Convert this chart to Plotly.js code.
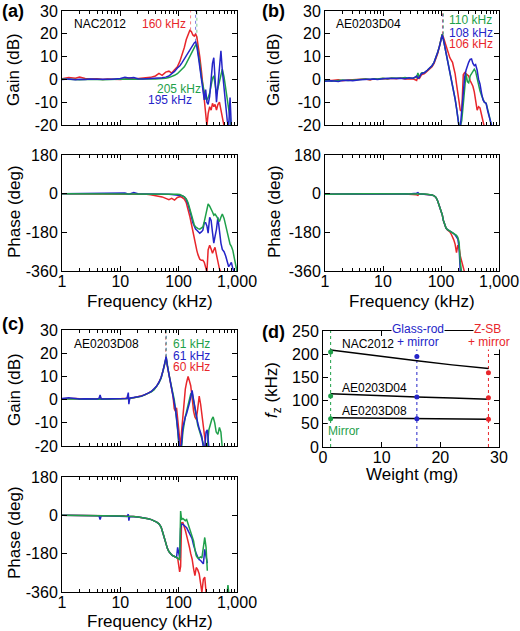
<!DOCTYPE html>
<html>
<head>
<meta charset="utf-8">
<script src="https://cdn.plot.ly/plotly-3.0.1.min.js"></script>
<style>
  html, body { margin: 0; padding: 0; background: #fff; }
  #chart { width: 520px; height: 631px; }
</style>
</head>
<body>
<div id="chart"></div>
<script>
// ---------------- data ----------------
// (a) NAC2012 frequency response (kHz, dB, deg)
const freqA = [
  1, 1.3, 1.7, 2, 2.5, 3, 4, 5, 6, 7,
  8, 10, 12, 14, 17, 20, 24, 28, 33, 40,
  46, 52, 60, 68, 76, 85, 95, 105, 115, 125,
  135, 145, 155, 165, 175, 185, 195, 205, 215, 230,
  245, 260, 275, 290, 305, 320, 340, 360, 380, 400,
  420, 445, 470, 500, 530, 560, 600, 640, 680, 720,
  760, 800, 850, 900, 950, 1000
];
const gainA_ZSB = [
  0.3, 0.8, 0.5, 1.0, 0.4, 0.2, 0.3, 0.0, 0.2, 0.1,
  -0.1, 0.0, 0.2, 0.6, 0.2, 0.4, 0.5, 0.8, 0.9, 1.5,
  2.6, 1.8, 3.2, 3.6, 2.8, 4.2, 5.5, 8.0, 11.0, 14.0,
  17.5, 20.0, 21.5, 21.0, 19.5, 19.0, 20.0, 18.5, 15.5, 10.0,
  4.0, -2.5, -7.0, -11.5, -20.5, -15.0, -12.0, -13.5, -10.5, -12.0,
  -11.0, -13.5, -11.0, -10.0, -13.0, -17.0, -20.5, null, null, null,
  null, null, null, null, null, null
];
const gainA_Mirror = [
  0.2, 0.0, 0.1, -0.1, 0.0, 0.1, 0.0, -0.1, 0.0, 0.1,
  0.0, 0.1, 0.2, 0.1, 0.0, 0.1, 0.2, 0.1, 0.2, 0.2,
  0.2, 0.3, 0.5, 0.8, 1.2, 1.8, 2.5, 3.5, 4.5, 5.5,
  7.0, 8.5, 10.0, 11.5, 12.5, 13.5, 15.0, 15.2, 12.5, 7.0,
  1.0, -3.0, -6.0, -8.5, -9.0, -8.0, -6.0, -3.0, 0.5, 1.5,
  -2.0, -6.0, -4.0, -1.0, 2.0, 4.5, 1.0, -4.0, -8.0, -12.0,
  -16.0, -21.0, null, null, null, null
];
const gainA_Glass = [
  0.0, 0.2, -0.1, 0.1, 0.0, 0.2, 0.1, 0.0, 0.2, 0.1,
  0.2, 0.4, 0.9, 0.6, 0.8, 0.3, 0.2, 0.3, 0.2, 0.4,
  0.5, 0.7, 1.0, 1.5, 2.5, 3.5, 5.0, 6.0, 7.5, 9.0,
  10.5, 12.0, 13.0, 14.0, 15.0, 16.0, 16.5, 14.5, 11.0, 5.5,
  -2.0, -5.0, -9.0, -4.5, -10.0, -11.0, -7.5, 0.0, 7.0, 9.5,
  1.0, -10.0, -3.0, 6.0, 12.5, 4.0, -5.0, -13.0, -18.0, -21.0,
  -8.0, -21.0, null, null, null, null
];
const phaseA_ZSB = [
  0, 0, 0, 0, 0, 0, 0, 0, 0, 0,
  0, 0, -1, -2, 0, -2, -1, -3, -5, -8,
  -12, -15, -22, -28, -22, -30, -18, -14, -18, -25,
  -42, -70, -105, -140, -178, -210, -240, -265, -285, -305,
  -310, -310, -320, -345, -365, -262, -240, -258, -277, -262,
  -250, -285, -325, -350, -365, null, null, null, null, null,
  null, null, null, null, null, null
];
const phaseA_Mirror = [
  0, 0, 0, 0, 0, 0, 0, 0, 0, 0,
  0, 0, 0, 0, 0, 0, 0, 0, 0, 0,
  0, -1, -1, -2, -2, -3, -3, -4, -8, -15,
  -25, -42, -70, -100, -128, -145, -155, -160, -163, -165,
  -160, -155, -130, -95, -60, -48, -58, -70, -85, -100,
  -95, -105, -115, -130, -110, -95, -115, -150, -190, -220,
  -235, -245, -265, -300, -340, -362
];
const phaseA_Glass = [
  0, 0, 0, 0, 0, 0, 0, 0, 0, 0,
  0, 0, 3, -2, 5, 0, 0, -1, 0, -1,
  -1, -2, -2, -3, -4, -5, -5, -6, -10, -15,
  -28, -50, -75, -105, -135, -155, -165, -170, -178, -184,
  -178, -170, -135, -135, -150, -184, -110, -125, -180, -230,
  -200, -165, -110, -190, -230, -260, -270, -290, -315, -340,
  -330, -320, -350, -365, null, null
];

// (b) AE0203D04 frequency response
const freqB = [
  1, 1.3, 1.7, 2, 2.5, 3, 4, 5, 6, 7,
  8, 10, 12, 14, 17, 20, 24, 28, 33, 38,
  40, 42, 46, 52, 58, 64, 70, 76, 82, 88,
  94, 100, 105, 110, 116, 122, 128, 135, 142, 150,
  158, 166, 175, 185, 195, 205, 215, 228, 242, 256,
  270, 285, 300, 318, 336, 355, 375, 395, 420, 445,
  470, 500, 530, 560, 600, 640, 680, 720, 760
];
const gainB_ZSB = [
  -0.3, -0.5, -0.2, -0.6, -0.3, -0.1, 0.0, 0.2, -0.2, 0.3,
  0.1, 0.4, 0.2, 0.5, 0.3, 0.6, 0.2, 0.4, 0.3, -0.5,
  1.5, 0.2, 2.0, 2.5, 3.5, 4.5, 5.5, 7.0, 9.0, 11.5,
  14.5, 18.0, 19.8, 18.5, 16.5, 15.0, 13.5, 11.0, 9.5, 8.5,
  7.5, 5.0, 2.5, -2.0, -5.5, -10.0, -13.5, -14.0, 2.0, 3.0,
  2.5, 2.0, 1.5, -0.5, -1.5, -3.0, -5.5, -9.0, -13.5, -12.0,
  -12.5, -15.5, -18.5, -21.0, null, null, null, null, null
];
const gainB_Mirror = [
  -0.5, -0.8, -0.5, -0.3, -0.5, -0.2, 0.0, 0.2, 0.0, 0.3,
  0.2, 0.5, 0.3, 0.6, 0.4, 0.5, 0.8, 0.5, 0.6, 1.0,
  2.8, 1.0, 2.8, 3.0, 4.0, 5.0, 6.0, 7.5, 9.5, 12.0,
  14.5, 17.5, 19.8, 17.5, 14.5, 11.5, 9.0, 6.5, 4.0, 1.5,
  -1.5, -4.5, -8.5, -12.5, -16.5, -20.5, -21.0, -18.0, -11.0, -4.0,
  2.5, -1.0, -1.5, 1.5, 2.5, 4.0, 4.5, 3.5, 0.0, -2.5,
  -5.0, -7.0, -9.0, -10.0, -10.5, -13.0, -16.0, -19.0, -21.0
];
const gainB_Glass = [
  -0.8, -0.6, -0.9, -0.5, -0.4, -0.6, -0.2, 0.0, 0.1, 0.2,
  0.0, 0.3, 0.5, 0.4, 0.6, 0.5, 0.3, 0.7, 0.5, 1.5,
  0.5, 0.8, 2.5, 3.0, 4.0, 5.0, 6.0, 7.5, 9.5, 12.0,
  14.5, 17.5, 19.5, 17.5, 14.5, 11.5, 9.0, 6.5, 4.0, 1.5,
  -1.5, -4.5, -8.5, -12.5, -16.5, -21.0, -21.0, -13.0, -5.0, 1.0,
  4.0, 6.0, 7.5, 8.8, 9.0, 7.0, 6.0, 6.5, 4.0, 0.0,
  -2.0, -6.0, -9.0, -10.0, -10.5, -14.0, -17.0, -19.0, -21.0
];
const phaseB_ZSB = [
  -2, -3, -2, -1, -2, -1, 0, -1, 0, 0,
  -1, 0, -1, 0, -1, 0, -1, 0, -1, -5,
  -8, -2, -1, -2, -3, -4, -6, -10, -18, -35,
  -55, -78, -98, -125, -148, -160, -168, -172, -178, -188,
  -200, -215, -235, -275, -240, -250, -290, -320, -345, -368,
  null, null, null, null, null, null, null, null, null, null,
  null, null, null, null, null, null, null, null, null
];
const phaseB_Mirror = [
  -3, -2, -2, -1, -1, -1, 0, 0, 0, 0,
  0, 0, 0, 0, 1, 0, 0, 0, 0, 0,
  0, -1, -1, -2, -3, -4, -6, -10, -18, -35,
  -55, -78, -98, -125, -148, -160, -166, -170, -172, -175,
  -178, -182, -187, -194, -203, -225, -320, -370, null, null,
  null, null, null, null, null, null, null, null, null, null,
  null, null, null, null, null, null, null, null, null
];
const phaseB_Glass = [
  -3, -2, -3, -1, -2, -1, 0, -1, 0, 0,
  0, 0, -1, 0, 0, -1, 0, -1, 0, 2,
  5, -1, -1, -2, -3, -4, -6, -10, -18, -35,
  -55, -78, -98, -125, -148, -160, -166, -170, -172, -175,
  -180, -186, -192, -200, -212, -250, -365, null, null, null,
  null, null, null, null, null, null, null, null, null, null,
  null, null, null, null, null, null, null, null, null
];

// (c) AE0203D08 frequency response
const freqC = [
  1, 1.3, 1.7, 2, 2.5, 3, 3.5, 4, 4.3, 4.5,
  4.7, 5, 6, 7, 8, 9, 10, 11, 12, 13,
  13.7, 14, 14.5, 15, 17, 20, 23, 26, 30, 34,
  38, 42, 46, 50, 54, 58, 61, 64, 68, 72,
  76, 80, 84, 88, 92, 96, 100, 104, 108, 112,
  118, 124, 130, 137, 145, 153, 161, 170, 180, 190,
  200, 212, 225, 238, 250, 265, 280, 295, 310, 330,
  350, 370, 390, 415, 440, 470, 500, 530, 560, 600,
  650, 680, 700, 720
];
const gainC_ZSB = [
  0.4, 0.6, 0.5, 0.4, 0.3, 0.4, 0.3, 0.4, 0.4, 1.0,
  0.4, 0.3, 0.3, 0.4, 0.3, 0.4, 0.4, 0.5, 0.4, 0.5,
  1.5, -0.5, 0.5, 0.7, 0.8, 1.2, 1.5, 2.0, 2.8, 3.5,
  4.5, 5.8, 7.5, 9.5, 12.5, 16.0, 18.0, 14.5, 11.0, 8.0,
  5.0, 1.5, -4.0, -5.0, -3.5, -8.0, -14.0, -19.0, -21.0, -14.0,
  -6.0, 1.0, 4.5, 7.5, 10.0, 8.0, 6.0, 1.0, -5.0, -7.5,
  -8.5, -4.0, 1.5, -2.0, -6.0, -10.0, -15.0, -21.0, null, null,
  null, null, null, null, null, null, null, null, null, null,
  null, null, null, null
];
const gainC_Mirror = [
  0.3, 0.5, 0.4, 0.2, 0.3, 0.2, 0.3, 0.2, 0.3, 0.3,
  0.2, 0.3, 0.2, 0.2, 0.3, 0.2, 0.4, 0.3, 0.4, 0.5,
  0.5, 0.5, 0.5, 0.6, 0.7, 1.1, 1.4, 1.9, 2.6, 3.3,
  4.3, 5.6, 7.2, 9.2, 12.0, 15.5, 18.3, 14.5, 11.0, 8.0,
  5.6, 3.0, 0.0, -4.0, -8.0, -13.0, -19.0, -21.0, -21.0, -21.0,
  -14.0, -10.0, -7.5, -5.0, -2.0, 0.5, 2.5, 3.0, 0.0, -4.0,
  -7.0, -11.0, -13.0, -15.0, -17.0, -19.0, -21.0, -21.0, -20.0, -13.0,
  -10.0, -8.5, -7.5, -10.0, -14.0, -15.0, -12.0, -14.0, -21.0, null,
  null, null, null, null
];
const gainC_Glass = [
  0.5, 0.8, 0.5, 0.3, 0.4, 0.3, 0.4, 0.3, 0.5, 2.0,
  0.3, 0.3, 0.2, 0.3, 0.4, 0.3, 0.5, 0.4, 0.5, 0.6,
  3.0, -2.0, 0.6, 0.7, 0.8, 1.2, 1.5, 2.0, 2.8, 3.5,
  4.5, 5.8, 7.5, 9.5, 12.5, 16.0, 18.5, 14.5, 11.0, 8.0,
  5.6, 3.0, 0.0, -4.0, -8.0, -13.0, -19.0, -21.0, -21.0, -19.0,
  -12.0, -9.0, -7.5, -6.0, -4.0, -1.5, 1.0, 4.0, 0.0, -4.0,
  -7.0, -10.0, -12.5, -14.0, -16.0, -21.0, -21.0, -14.0, -13.0, -21.0,
  null, null, null, null, null, null, null, null, null, null,
  null, null, null, null
];
const phaseC_ZSB = [
  0, 0, 0, 0, 0, 0, 0, 0, 0, -1,
  0, -1, -1, -2, -2, -2, -3, -3, -3, -4,
  -4, -6, -4, -5, -6, -8, -10, -12, -16, -20,
  -25, -32, -40, -55, -85, -120, -138, -155, -170, -180,
  -186, -190, -194, -196, -198, -200, -230, -265, -240, -35,
  -34, -50, -70, -95, -120, -150, -180, -205, -250, -283,
  -245, -255, -275, -320, -362, -300, -290, -362, null, null,
  null, null, null, null, null, null, null, null, null, null,
  null, null, null, null
];
const phaseC_Mirror = [
  0, 0, 0, 0, 0, 0, 0, 0, -1, -1,
  -1, -1, -2, -2, -2, -3, -3, -3, -4, -4,
  -4, -4, -5, -5, -6, -8, -10, -12, -16, -20,
  -25, -32, -40, -55, -85, -120, -138, -155, -170, -180,
  -186, -190, -194, -196, -198, -200, -205, -210, 20, -20,
  -15, -20, -25, -20, -40, -55, -70, -90, -120, -160,
  -190, -200, -200, -195, -200, -150, -104, -150, -260, null,
  null, null, null, null, null, null, null, null, null, null,
  null, -362, -328, -362
];
const phaseC_Glass = [
  0, 0, -1, 0, -1, 0, -1, -1, -2, -20,
  -2, -2, -2, -3, -3, -3, -4, -4, -4, -5,
  5, -25, -5, -5, -6, -8, -10, -12, -16, -20,
  -25, -32, -40, -55, -85, -120, -138, -155, -170, -180,
  -186, -190, -194, -196, -198, -150, -190, -200, -60, -42,
  -42, -48, -52, -58, -72, -85, -98, -110, -140, -165,
  -180, -195, -208, -212, -220, -228, -160, -200, -225, null,
  null, null, null, null, null, null, null, null, null, null,
  null, null, null, null
];

// (d) resonance frequency vs. added weight
const weights = [1.3, 16, 28.2];           // mg: mirror, glass-rod + mirror, Z-SB + mirror
const fzNAC2012 = [205, 195, 160];          // kHz
const fzAE0203D04 = [110, 108, 106];
const fzAE0203D08 = [61, 61, 60];
const trendWeight = [1.3, 5, 10, 16, 22, 28.2];
const trendNAC2012 = [209, 203, 195, 186, 177, 169];
const trendAE0203D04 = [115, 113, 111, 108, 105.5, 103];
const trendAE0203D08 = [63, 62.5, 62, 61.5, 61, 60];

// tick labels
const freqTicks = [1, 10, 100, 1000];
const freqTickText = ['1', '10', '100', '1,000'];
const freqMinorTicks = [2, 3, 4, 5, 6, 7, 8, 9, 20, 30, 40, 50, 60, 70, 80, 90,
                        200, 300, 400, 500, 600, 700, 800, 900];
const gainTicks = [-20, -10, 0, 10, 20, 30];
const phaseTicks = [-360, -180, 0, 180];
const weightTicks = [0, 10, 20, 30];
const fzTicks = [0, 50, 100, 150, 200, 250];

// ---------------- styling ----------------
const FONT = 'Liberation Sans, Arial, Helvetica, sans-serif';
const RED = '#e8262b', GREEN = '#1fa04a', BLUE = '#2424c8';
const W = 520, H = 631;
const px = x => x / W;
const py = y => 1 - y / H;

// plot boxes in pixels: [left, right, top, bottom]
const boxes = [
  [62, 237, 11, 125],   // a gain
  [62, 237, 155, 271],  // a phase
  [325, 499, 11, 125],  // b gain
  [325, 499, 155, 271], // b phase
  [62, 237, 330, 446],  // c gain
  [62, 237, 477, 592],  // c phase
  [323, 499, 331, 447]  // d
];

const frame = {
  showline: true, linecolor: '#000', linewidth: 1, mirror: 'allticks',
  ticks: 'inside', ticklen: 5, tickwidth: 1, tickcolor: '#000',
  showgrid: false, zeroline: false, fixedrange: true,
  tickfont: { family: FONT, size: 16, color: '#000' }
};

function freqAxis(i, labels) {
  const b = boxes[i];
  return Object.assign({}, frame, {
    type: 'log', range: [0, 3], domain: [px(b[0]), px(b[1])],
    anchor: 'y' + (i === 0 ? '' : i + 1),
    tickmode: 'array', tickvals: freqTicks, ticktext: freqTickText,
    showticklabels: labels, ticklabelstandoff: -4,
    minor: { tickmode: 'array', tickvals: freqMinorTicks, ticks: 'inside', ticklen: 3, tickcolor: '#000' }
  });
}
function valueAxis(i, range, ticks) {
  const b = boxes[i];
  return Object.assign({}, frame, {
    range: range, domain: [py(b[3]), py(b[2])],
    anchor: 'x' + (i === 0 ? '' : i + 1),
    tickmode: 'array', tickvals: ticks, ticktext: ticks.map(String)
  });
}

const layout = {
  width: W, height: H,
  margin: { l: 0, r: 0, t: 0, b: 0 },
  paper_bgcolor: '#fff', plot_bgcolor: '#fff',
  showlegend: false,
  font: { family: FONT, color: '#000' },
  xaxis: freqAxis(0, false), yaxis: valueAxis(0, [-20, 30], gainTicks),
  xaxis2: freqAxis(1, true), yaxis2: valueAxis(1, [-360, 180], phaseTicks),
  xaxis3: freqAxis(2, false), yaxis3: valueAxis(2, [-20, 30], gainTicks),
  xaxis4: freqAxis(3, true), yaxis4: valueAxis(3, [-360, 180], phaseTicks),
  xaxis5: freqAxis(4, false), yaxis5: valueAxis(4, [-20, 30], gainTicks),
  xaxis6: freqAxis(5, true), yaxis6: valueAxis(5, [-360, 180], phaseTicks),
  xaxis7: Object.assign({}, frame, {
    range: [0, 30], domain: [px(boxes[6][0]), px(boxes[6][1])], anchor: 'y7',
    tickmode: 'array', tickvals: weightTicks, ticktext: weightTicks.map(String),
    ticklabelstandoff: -4
  }),
  yaxis7: valueAxis(6, [0, 250], fzTicks),
  annotations: []
};

// ---------------- traces ----------------
const traces = [];
function curve(xa, ya, x, y, color) {
  traces.push({ type: 'scatter', mode: 'lines', xaxis: xa, yaxis: ya, x: x, y: y,
    line: { color: color, width: 1.5 }, hoverinfo: 'skip' });
}
function peakMarker(xa, ya, f, series, color) {
  const peak = Math.max.apply(null, series.filter(v => v !== null));
  traces.push({ type: 'scatter', mode: 'lines', xaxis: xa, yaxis: ya,
    x: [f, f], y: [peak, 30], opacity: 0.6,
    line: { color: color, width: 1, dash: 'dot' }, hoverinfo: 'skip' });
}

// resonance markers (behind the curves)
peakMarker('x', 'y', fzNAC2012[2], gainA_ZSB, RED);
peakMarker('x', 'y', fzNAC2012[1], gainA_Glass, BLUE);
peakMarker('x', 'y', fzNAC2012[0], gainA_Mirror, GREEN);
peakMarker('x3', 'y3', fzAE0203D04[2], gainB_ZSB, RED);
peakMarker('x3', 'y3', fzAE0203D04[1], gainB_Glass, BLUE);
peakMarker('x3', 'y3', fzAE0203D04[0], gainB_Mirror, GREEN);
peakMarker('x5', 'y5', fzAE0203D08[2], gainC_ZSB, RED);
peakMarker('x5', 'y5', fzAE0203D08[1], gainC_Glass, BLUE);
peakMarker('x5', 'y5', fzAE0203D08[0], gainC_Mirror, GREEN);

// Bode curves: Z-SB (red), mirror (green), glass-rod (blue)
curve('x', 'y', freqA, gainA_ZSB, RED);
curve('x', 'y', freqA, gainA_Mirror, GREEN);
curve('x', 'y', freqA, gainA_Glass, BLUE);
curve('x2', 'y2', freqA, phaseA_ZSB, RED);
curve('x2', 'y2', freqA, phaseA_Glass, BLUE);
curve('x2', 'y2', freqA, phaseA_Mirror, GREEN);

curve('x3', 'y3', freqB, gainB_ZSB, RED);
curve('x3', 'y3', freqB, gainB_Mirror, GREEN);
curve('x3', 'y3', freqB, gainB_Glass, BLUE);
curve('x4', 'y4', freqB, phaseB_ZSB, RED);
curve('x4', 'y4', freqB, phaseB_Glass, BLUE);
curve('x4', 'y4', freqB, phaseB_Mirror, GREEN);

curve('x5', 'y5', freqC, gainC_ZSB, RED);
curve('x5', 'y5', freqC, gainC_Mirror, GREEN);
curve('x5', 'y5', freqC, gainC_Glass, BLUE);
curve('x6', 'y6', freqC, phaseC_ZSB, RED);
curve('x6', 'y6', freqC, phaseC_Glass, BLUE);
curve('x6', 'y6', freqC, phaseC_Mirror, GREEN);

// (d) weight guide lines
const weightColors = [GREEN, BLUE, RED];
weights.forEach((w, i) => {
  traces.push({ type: 'scatter', mode: 'lines', xaxis: 'x7', yaxis: 'y7',
    x: [w, w], y: [0, 250], line: { color: weightColors[i], width: 1, dash: 'dot' },
    hoverinfo: 'skip' });
});
// (d) trend lines
[trendNAC2012, trendAE0203D04, trendAE0203D08].forEach(t => {
  traces.push({ type: 'scatter', mode: 'lines', xaxis: 'x7', yaxis: 'y7',
    x: trendWeight, y: t, line: { color: '#000', width: 1.5 }, hoverinfo: 'skip' });
});
// (d) measured points, coloured by attached load
weights.forEach((w, i) => {
  traces.push({ type: 'scatter', mode: 'markers', xaxis: 'x7', yaxis: 'y7',
    x: [w, w, w], y: [fzNAC2012[i], fzAE0203D04[i], fzAE0203D08[i]],
    marker: { color: weightColors[i], size: 5 }, hoverinfo: 'skip' });
});

// ---------------- text ----------------
function note(text, x, y, opt) {
  layout.annotations.push(Object.assign({
    text: text, xref: 'paper', yref: 'paper', x: px(x), y: py(y),
    xanchor: 'center', yanchor: 'middle', showarrow: false,
    font: { family: FONT, size: 12, color: '#000' }
  }, opt || {}));
}
// compact label for tightly stacked frequency tags
function tag(text, x, y, color) {
  note(text, x, y, { xanchor: 'left', height: 11, borderpad: 0,
    font: { family: FONT, size: 12, color: color } });
}
const titleFont = { family: FONT, size: 17, color: '#000' };
const letterFont = { family: FONT, size: 18, color: '#000', weight: 'bold' };

// panel letters
note('<b>(a)</b>', 0, 11, { xanchor: 'left', font: letterFont });
note('<b>(b)</b>', 260, 11, { xanchor: 'left', font: letterFont });
note('<b>(c)</b>', 0, 324, { xanchor: 'left', font: letterFont });
note('<b>(d)</b>', 260, 332, { xanchor: 'left', font: letterFont });

// axis titles
[[14, 70], [274, 70], [14, 390]].forEach(p => note('Gain (dB)', p[0], p[1], { textangle: -90, font: titleFont }));
[[14, 212], [274, 212], [14, 533]].forEach(p => note('Phase (deg)', p[0], p[1], { textangle: -90, font: titleFont }));
note('Frequency (kHz)', 149.5, 302, { font: titleFont });
note('Frequency (kHz)', 412, 302, { font: titleFont });
note('Frequency (kHz)', 149.5, 621, { font: titleFont });
note('Weight (mg)', 412, 474, { font: titleFont });
note('<i>f</i><sub>z</sub> (kHz)', 273, 390, { textangle: -90, font: titleFont });

// (a) labels
note('NAC2012', 71.5, 23.5, { xanchor: 'left' });
note(fzNAC2012[2] + ' kHz', 188, 23.5, { xanchor: 'right', font: { family: FONT, size: 12, color: RED } });
tag(fzNAC2012[0] + ' kHz', 156, 88.5, GREEN);
tag(fzNAC2012[1] + ' kHz', 146.5, 99.5, BLUE);
// (b) labels
note('AE0203D04', 334, 23.5, { xanchor: 'left' });
tag(fzAE0203D04[0] + ' kHz', 448, 19.5, GREEN);
tag(fzAE0203D04[1] + ' kHz', 448, 32, BLUE);
tag(fzAE0203D04[2] + ' kHz', 448, 43.5, RED);
// (c) labels
note('AE0203D08', 71.5, 343.5, { xanchor: 'left' });
tag(fzAE0203D08[0] + ' kHz', 172, 343.5, GREEN);
tag(fzAE0203D08[1] + ' kHz', 172, 355, BLUE);
tag(fzAE0203D08[2] + ' kHz', 172, 366.5, RED);
// (d) labels
note('NAC2012', 340, 343.5, { xanchor: 'left' });
note('AE0203D04', 340, 388, { xanchor: 'left' });
note('AE0203D08', 340, 410.5, { xanchor: 'left' });
note('Mirror', 326.5, 431, { xanchor: 'left', bgcolor: '#fff', borderpad: 0, font: { family: FONT, size: 12, color: GREEN } });
note('Glass-rod', 418, 329, { bgcolor: '#fff', borderpad: 0, font: { family: FONT, size: 12, color: BLUE } });
note('+ mirror', 417.5, 341.5, { bgcolor: '#fff', borderpad: 0, font: { family: FONT, size: 12, color: BLUE } });
note('Z-SB', 487.5, 329, { bgcolor: '#fff', borderpad: 0, font: { family: FONT, size: 12, color: RED } });
note('+ mirror', 489, 341.5, { bgcolor: '#fff', borderpad: 0, font: { family: FONT, size: 12, color: RED } });

Plotly.newPlot('chart', traces, layout, { staticPlot: true, displayModeBar: false });
</script>
</body>
</html>
